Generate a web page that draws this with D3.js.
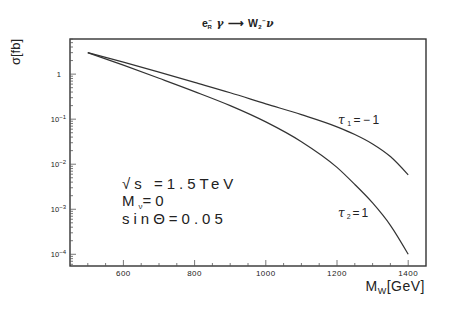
<!DOCTYPE html>
<html>
<head>
<meta charset="utf-8">
<script src="https://d3js.org/d3.v7.min.js"></script>
<style>
  body { margin: 0; background: #fff; }
  text { font-family: "Liberation Sans", Arial, sans-serif; fill: #222; }
</style>
</head>
<body>
<svg width="474" height="316"></svg>
<script>
// masses (GeV) and cross sections (fb)
var mass = [500, 600, 700, 800, 900, 1000, 1100, 1200, 1250, 1300, 1350, 1400];
var sigTau1 = [3.0, 1.85, 1.11, 0.656, 0.386, 0.219, 0.126, 0.0676, 0.0457, 0.0282, 0.0148, 0.0058];
var sigTau2 = [3.0, 1.58, 0.81, 0.41, 0.20, 0.087, 0.0316, 0.0085, 0.00355, 0.00138, 0.00044, 0.0001];
var xTicks = [600, 800, 1000, 1200, 1400];
var yTicks = [1, 0.1, 0.01, 0.001, 0.0001];
var yTickLabels = ["1", "10", "10", "10", "10"];
var yTickExp = ["", "\u22121", "\u22122", "\u22123", "\u22124"];

var svg = d3.select("svg");
var box = {left: 70, right: 426, top: 39, bottom: 266};

var x = d3.scaleLinear().domain([450, 1450]).range([box.left, box.right]);
var y = d3.scaleLog().domain([10 ** -4.26, 10 ** 0.78]).range([box.bottom, box.top]);

// frame
svg.append("rect")
  .attr("x", box.left).attr("y", box.top)
  .attr("width", box.right - box.left).attr("height", box.bottom - box.top)
  .attr("fill", "none").attr("stroke", "#333").attr("stroke-width", 1.4);

// y ticks (major + log minor), pointing inward
var g = svg.append("g").attr("stroke", "#555").attr("stroke-width", 0.8);
var lo = y.domain()[0], hi = y.domain()[1];
for (var e = -5; e <= 1; e++) {
  for (var m = 1; m < 10; m++) {
    var v = m * Math.pow(10, e);
    if (v < lo || v > hi) continue;
    var len = m === 1 ? 6 : 3;
    g.append("line").attr("x1", box.left).attr("x2", box.left + len)
      .attr("y1", y(v)).attr("y2", y(v));
  }
}
// x ticks pointing up
for (var xv = 500; xv <= 1400; xv += 50) {
  var l2 = xv % 200 === 0 ? 6 : 3;
  g.append("line").attr("x1", x(xv)).attr("x2", x(xv))
    .attr("y1", box.bottom).attr("y2", box.bottom - l2);
}

// tick labels
svg.selectAll(".xl").data(xTicks).enter().append("text")
  .attr("x", function(d) { return x(d); })
  .attr("y", box.bottom + 10)
  .attr("text-anchor", "middle")
  .attr("font-size", 8).attr("letter-spacing", 0.5)
  .text(function(d) { return d; });

var yl = svg.selectAll(".yl").data(yTicks).enter().append("text")
  .attr("x", function(d, i) { return i === 0 ? 61 : 66; })
  .attr("y", function(d) { return y(d) + 3; })
  .attr("text-anchor", "end")
  .attr("font-size", 7.5);
yl.append("tspan").text(function(d, i) { return yTickLabels[i]; });
yl.append("tspan").attr("dy", -3.5).attr("font-size", 6)
  .text(function(d, i) { return yTickExp[i]; });

// curves
var line = d3.line()
  .x(function(d) { return x(d[0]); })
  .y(function(d) { return y(d[1]); })
  .curve(d3.curveMonotoneX);
[sigTau1, sigTau2].forEach(function(s) {
  svg.append("path")
    .datum(mass.map(function(mv, i) { return [mv, s[i]]; }))
    .attr("d", line)
    .attr("fill", "none").attr("stroke", "#333").attr("stroke-width", 1.2);
});

// title
var t = svg.append("text").attr("x", 238).attr("y", 27).attr("text-anchor", "middle")
  .attr("font-size", 10.5).attr("font-weight", "bold").attr("letter-spacing", 0.5);
t.append("tspan").text("e");
t.append("tspan").attr("font-size", 6).attr("dy", -4).text("\u2212");
t.append("tspan").attr("font-size", 6).attr("dx", -5).attr("dy", 6).text("R");
t.append("tspan").attr("dy", -2).attr("font-style", "italic").attr("font-family", "DejaVu Serif, serif").text(" \u03b3 ");
t.append("tspan").text(" \u27f6  W");
t.append("tspan").attr("font-size", 6).attr("dy", 2).text("2");
t.append("tspan").attr("font-size", 6).attr("dy", -6).text("\u2212");
t.append("tspan").attr("dy", 4).attr("font-style", "italic").attr("font-family", "DejaVu Serif, serif").text("\u03bd");

// y axis label
svg.append("text").attr("transform", "translate(20,52) rotate(-90)")
  .attr("text-anchor", "middle").attr("font-size", 13).text("\u03c3[fb]");

// x axis label
var xlab = svg.append("text").attr("x", 425).attr("y", 291).attr("text-anchor", "end")
  .attr("font-size", 14).attr("letter-spacing", 0.5);
xlab.append("tspan").text("M");
xlab.append("tspan").attr("font-size", 9).attr("dy", 3).text("W");
xlab.append("tspan").attr("dy", -3).text("[GeV]");

// parameters
var pa = svg.append("g").attr("font-size", 15).attr("font-family", "DejaVu Sans, sans-serif")
  .attr("letter-spacing", 4);
pa.append("text").attr("x", 122).attr("y", 189).text("\u221as =1.5TeV");
var mn = pa.append("text").attr("x", 122).attr("y", 206);
mn.append("tspan").text("M");
mn.append("tspan").attr("font-size", 8).attr("dy", 3).attr("letter-spacing", 0).text("\u03bd");
mn.append("tspan").attr("dy", -3).text("=0");
pa.append("text").attr("x", 122).attr("y", 224).text("sin\u0398=0.05");

// curve labels
var c1 = svg.append("text").attr("x", 338).attr("y", 124).attr("font-size", 12).attr("letter-spacing", 2.5);
c1.append("tspan").attr("font-style", "italic").attr("font-family", "DejaVu Serif, serif").text("\u03c4");
c1.append("tspan").attr("font-size", 7).attr("dy", 2).text("1");
c1.append("tspan").attr("dy", -2).text("=\u22121");
var c2 = svg.append("text").attr("x", 338).attr("y", 217).attr("font-size", 12).attr("letter-spacing", 2);
c2.append("tspan").attr("font-style", "italic").attr("font-family", "DejaVu Serif, serif").text("\u03c4");
c2.append("tspan").attr("font-size", 7).attr("dy", 2).text("2");
c2.append("tspan").attr("dy", -2).text("=1");
</script>
</body>
</html>
